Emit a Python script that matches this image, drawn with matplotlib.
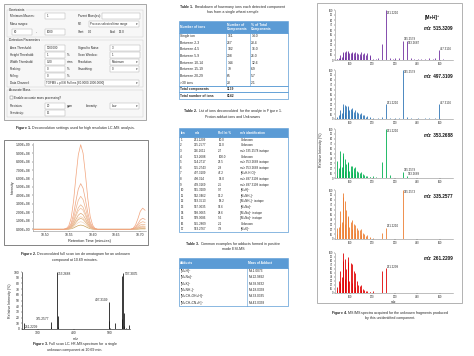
import matplotlib
matplotlib.use('Agg')
import matplotlib.pyplot as plt
from matplotlib.patches import Rectangle
from matplotlib.ticker import FuncFormatter

plt.rcParams['font.family'] = ['Liberation Sans', 'DejaVu Sans']
plt.rcParams['mathtext.fontset'] = 'custom'
plt.rcParams['mathtext.rm'] = 'Liberation Sans'
plt.rcParams['mathtext.it'] = 'Liberation Sans:italic'
plt.rcParams['mathtext.bf'] = 'Liberation Sans:bold'

W, H = 474, 356

# ---------------- data ----------------
# Figure 2: chromatogram peak shape (relative) and heights of each ion trace
rt = [10.475, 10.54, 10.545, 10.55, 10.555, 10.56, 10.565, 10.57, 10.575, 10.58,
      10.585, 10.59, 10.595, 10.60, 10.605, 10.61, 10.68, 10.685, 10.69, 10.695,
      10.70, 10.705, 10.71]
peak_shape = [0, 0, 0.01, 0.04, 0.13, 0.33, 0.62, 0.88, 1.0, 0.9,
              0.65, 0.36, 0.15, 0.05, 0.01, 0, 0, 0, 0, 0, 0, 0, 0]
tail_shape = [0, 0, 0, 0, 0, 0, 0, 0, 0, 0,
              0, 0, 0, 0, 0, 0, 0, 0.05, 0.2, 0.5, 0.85, 1.0, 0.9]
peak_heights = [1.0e9, 5.4e8, 3.9e8, 2.9e8, 2.5e8, 1.9e8, 1.5e8, 1.3e8, 0.9e8, 0.5e8]
tail_heights = [2.5e8, 1.3e8, 0.9e8, 0.6e8, 0.4e8, 0.3e8, 0.2e8, 0.1e8, 0.1e8, 0.05e8]
trace_colors = ['#f2a47c', '#eda582', '#f0b48e', '#e9b591', '#f3c3a0', '#e0aa7a',
                '#f6cfb2', '#d8b07a', '#f3d8c0', '#c9a25a']

# Figure 3: full scan spectrum (from Table 2)
ms_mz = [261.2209, 335.2577, 336.2611, 353.2688, 354.2717, 355.2743, 497.3109,
         498.314, 499.3169, 515.3209, 532.3462, 533.3513, 537.3035, 538.3065,
         539.3086, 545.2809, 553.2767]
ms_int = [10.0, 12.0, 2.7, 100.0, 23.5, 2.8, 47.2, 14.0, 2.5, 9.7, 93.2, 18.2,
          97.6, 28.6, 5.6, 2.1, 7.8]
ms_labels = ['261.2209', '335.2577', '353.2688', '497.3109', '537.3035']

# Table 1
t1_header = ['Number of ions', 'Number of\nComponents', '% of Total\nComponents']
t1_rows = [['Single ion', '161', '14.0'], ['Between 2-3', '267', '23.4'],
           ['Between 4-5', '182', '16.0'], ['Between 5-9', '298', '26.0'],
           ['Between 10-14', '144', '12.6'], ['Between 15-19', '79', '6.9'],
           ['Between 20-29', '65', '5.7'], ['>30 ions', '23', '2.1']]
t1_totals = [['Total components', '1139'], ['Total number of ions', '8142']]

# Table 2
t2_header = ['Ion', 'm/z', 'Rel Int %', 'm/z identification']
t2_rows = [['1', '261.2209', '10.0', 'Unknown'],
           ['2', '335.2577', '12.0', 'Unknown'],
           ['3', '336.2611', '2.7', 'm/z 335.2578 isotope'],
           ['4', '353.2688', '100.0', 'Unknown'],
           ['5', '354.2717', '23.5', 'm/z 353.2688 isotope'],
           ['6', '355.2743', '2.8', 'm/z 353.2688 isotope'],
           ['7', '497.3109', '47.2', '[M+H-H₂O]⁺'],
           ['8', '498.314', '14.0', 'm/z 497.3109 isotope'],
           ['9', '499.3169', '2.5', 'm/z 497.3109 isotope'],
           ['10', '515.3209', '9.7', '[M+H]⁺'],
           ['11', '532.3462', '93.2', '[M+NH₄]⁺'],
           ['12', '533.3513', '18.2', '[M+NH₄]⁺ isotope'],
           ['13', '537.3035', '97.6', '[M+Na]⁺'],
           ['14', '538.3065', '28.6', '[M+Na]⁺ isotope'],
           ['15', '539.3086', '5.6', '[M+Na]⁺ isotope'],
           ['16', '545.2809', '2.1', 'Unknown'],
           ['17', '553.2767', '7.8', '[M+K]⁺']]

# Table 3
t3_header = ['Adducts', 'Mass of Adduct']
t3_rows = [['[M+H]⁺', 'M+1.0073'], ['[M+Na]⁺', 'M+22.9892'],
           ['[M+K]⁺', 'M+38.9632'], ['[M+NH₄]⁺', 'M+18.0338'],
           ['[M+CH₃OH+H]⁺', 'M+33.0335'], ['[M+CH₃CN+H]⁺', 'M+42.0338']]

# Figure 4: MS/MS spectra, shared low-mass fragment positions
low_mz = [41, 43, 53, 55, 57, 65, 67, 69, 77, 79, 81, 91, 93, 95, 105, 107, 109,
          119, 121, 123, 133, 135, 145, 147, 149, 159, 161, 173, 175, 187, 189]
p1_low = [3, 2, 5, 10, 4, 6, 14, 17, 7, 16, 18, 17, 18, 15, 14, 16, 15, 14, 16, 8,
          15, 12, 13, 17, 9, 12, 15, 10, 14, 8, 10]
p2_low = [4, 3, 8, 18, 10, 12, 25, 30, 14, 28, 27, 24, 26, 18, 20, 22, 17, 15, 18, 9,
          14, 12, 10, 12, 6, 8, 9, 5, 6, 3, 4]
p3_low = [5, 35, 20, 55, 25, 22, 52, 45, 15, 38, 28, 32, 30, 14, 25, 24, 12, 20, 22, 8,
          15, 12, 10, 12, 5, 8, 7, 4, 5, 2, 3]
p4_low = [22, 10, 25, 58, 30, 35, 93, 85, 30, 78, 60, 47, 45, 25, 35, 38, 20, 30, 28, 12,
          22, 18, 18, 20, 8, 12, 10, 6, 8, 3, 4]
p5_low = [15, 8, 30, 55, 25, 40, 80, 100, 35, 85, 60, 90, 78, 30, 75, 72, 25, 55, 50, 15,
          30, 20, 18, 20, 8, 10, 8, 5, 6, 2, 3]

p1_mz = [201, 215, 225, 243, 261, 279, 289, 299, 317, 335, 353, 371, 385, 403, 415,
         433, 451, 469, 479, 497, 515]
p1_int = [3, 2, 4, 33, 100, 5, 3, 4, 4, 38, 38, 4, 3, 2, 3, 3, 4, 2, 4, 20, 3]
p2_mz = [201, 225, 243, 261, 279, 299, 317, 335, 353, 371, 403, 433, 451, 479, 497]
p2_int = [3, 3, 4, 30, 3, 2, 3, 100, 4, 2, 2, 2, 3, 3, 30]
p3_mz = [201, 215, 243, 261, 279, 335, 353]
p3_int = [5, 3, 32, 100, 6, 13, 5]
p4_mz = [201, 243, 261, 335]
p4_int = [3, 13, 23, 100]
p5_mz = [201, 243, 261]
p5_int = [6, 55, 62]

p1_labels = [(261, 100, '261.2210'), (335, 38, '335.2579'), (353, 30, '353.2687'),
             (497, 20, '497.3106')]
p2_labels = [(335, 100, '335.2579'), (261, 30, '261.2210'), (497, 30, '497.3106')]
p3_labels = [(261, 100, '261.2210'), (335, 13, '335.2579'), (353, 5, '353.2689')]
p4_labels = [(335, 100, '335.2573'), (261, 23, '261.2210')]
p5_labels = [(261, 62, '261.2209')]

panel_titles = ['515.3209', '497.3109', '353.2688', '335.2577', '261.2209']
panel_colors = ['#7030a0', '#2e75b6', '#00b050', '#ed7d31', '#e00000']

# ---------------- figure ----------------
fig = plt.figure(figsize=(W / 100, H / 100), dpi=100, facecolor='white')


def box(x0, y0, x1, y1):
    return [x0 / W, 1 - y1 / H, (x1 - x0) / W, (y1 - y0) / H]


bg = fig.add_axes([0, 0, 1, 1])
bg.set_xlim(0, W)
bg.set_ylim(H, 0)
bg.axis('off')

TXT = '#262626'


def caption(x, y, bold, rest, line2):
    bg.text(x, y, r'$\bf{' + bold.replace(' ', r'\ ') + '}$ ' + rest, fontsize=2.6,
            ha='center', va='center', color=TXT)
    bg.text(x, y + 5.5, line2, fontsize=2.6, ha='center', va='center', color=TXT)


# ---- Figure 1: settings dialog ----
bg.add_patch(Rectangle((4, 4), 142, 116, fc='#f7f7f7', ec='#9a9a9a', lw=0.6))
for gy0, gy1, name in [(10, 37, 'Constraints'), (40, 87, 'Detection Parameters'),
                       (90, 117, 'Accurate Mass')]:
    bg.add_patch(Rectangle((7, gy0), 136, gy1 - gy0, fc='none', ec='#c8c8c8', lw=0.3))
    bg.text(9, gy0, name, fontsize=2.3, va='center', color=TXT,
            bbox=dict(fc='#f7f7f7', ec='none', pad=0.3))


def field(x0, x1, y, txt, combo=False):
    bg.add_patch(Rectangle((x0, y - 2.6), x1 - x0, 5.2, fc='white', ec='#a8a8a8', lw=0.3))
    bg.text(x0 + 1.5, y, txt, fontsize=2.1, va='center', color=TXT)
    if combo:
        bg.text(x1 - 1.5, y, '▾', fontsize=2.3, va='center', ha='right', color=TXT,
                family=['DejaVu Sans'])


def label(x, y, txt):
    bg.text(x, y, txt, fontsize=2.2, va='center', color=TXT)


label(10, 16, 'Minimum Masses:'); field(45, 65, 16, '1')
label(78, 16, 'Parent Mass(es):'); field(102, 140, 16, '')
label(10, 24, 'Mass ranges:')
label(78, 24, 'RT:'); field(89, 139, 24, 'Process selected time range', True)
field(12, 32, 32, '80'); label(36, 32, '-'); field(45, 65, 32, '1000')
label(78, 32, 'Start:'); label(88, 32, '0.0'); label(110, 32, 'End:'); label(119, 32, '13.0')
label(10, 48, 'Area Threshold:'); field(45, 65, 48, '5000000')
label(78, 48, 'Signal to Noise:'); field(110, 140, 48, '3')
label(10, 55, 'Height Threshold:'); field(45, 65, 55, '1'); label(67, 55, '%')
label(78, 55, 'Scan Window:'); field(110, 140, 55, '1')
label(10, 62, 'Width Threshold:'); field(45, 65, 62, '0.20'); label(67, 62, 'mins')
label(78, 62, 'Resolution:'); field(110, 139, 62, 'Maximum', True)
label(10, 69, 'Peaking:'); field(45, 65, 69, '0'); label(67, 69, '%')
label(78, 69, 'Smoothing:'); field(110, 139, 69, '0', True)
label(10, 76, 'Tailing:'); field(45, 65, 76, '0'); label(67, 76, '%')
label(10, 83, 'Data Channel:'); field(45, 139, 83, 'TOFMS + p ESI Full ms [80.0000-1000.0000]', True)
bg.add_patch(Rectangle((10, 96), 3, 3, fc='white', ec='#707070', lw=0.3))
label(14, 97.7, 'Enable accurate mass processing?')
label(10, 106, 'Precision:'); field(45, 65, 106, '20'); label(67, 106, 'ppm')
label(86, 106, 'Linearity:'); field(110, 139, 106, 'Low', True)
label(10, 113, 'Sensitivity:'); field(45, 65, 113, '15')
caption(75, 128.5, 'Figure 1.', 'Deconvolution settings used for high resolution LC-MS analysis.', '')

# ---- Figure 2: chromatogram ----
bg.add_patch(Rectangle((4, 140), 144, 105, fc='white', ec='#6f6f6f', lw=0.6))
ax2 = fig.add_axes(box(33, 143, 146, 231))
for i in range(len(peak_heights)):
    y = [peak_heights[i] * p + tail_heights[i] * t for p, t in zip(peak_shape, tail_shape)]
    ax2.plot(rt, y, color=trace_colors[i], lw=0.5, zorder=10 - i)
ax2.set_xlim(10.475, 10.712)
ax2.set_ylim(-0.02e9, 1.02e9)
ax2.set_xticks([10.50, 10.55, 10.60, 10.65, 10.70])
ax2.xaxis.set_major_formatter(FuncFormatter(lambda v, p: f'{v:.2f}'))
ax2.set_yticks([i * 1e8 for i in range(11)])
ax2.yaxis.set_major_formatter(FuncFormatter(lambda v, p: f'{v:.2E}'))
ax2.tick_params(labelsize=2.4, length=1, width=0.3, pad=0.8, colors=TXT)
for s in ['top', 'right']:
    ax2.spines[s].set_visible(False)
for s in ['left', 'bottom']:
    ax2.spines[s].set_linewidth(0.4)
    ax2.spines[s].set_color('#8c8c8c')
ax2.set_xlabel('Retention Time (minutes)', fontsize=2.8, labelpad=1, color=TXT)
ax2.set_ylabel('Intensity', fontsize=2.6, labelpad=1, color=TXT)
caption(75, 254.5, 'Figure 2.', 'Deconvoluted full scan ion chromatogram for an unknown',
        'compound at 10.69 minutes.')

# ---- Figure 3: full scan spectrum ----
ax3 = fig.add_axes(box(22, 272, 130, 329))
ax3.vlines(ms_mz, 0, ms_int, color='#1a1a1a', lw=0.6)
ax3.set_xlim(255, 556)
ax3.set_ylim(0, 100)
ax3.set_xticks([300, 400, 500])
ax3.set_yticks(range(0, 101, 10))
ax3.tick_params(labelsize=2.4, length=1, width=0.3, pad=0.8, colors=TXT)
for s in ['top', 'right']:
    ax3.spines[s].set_visible(False)
for s in ['left', 'bottom']:
    ax3.spines[s].set_linewidth(0.4)
ax3.set_xlabel('m/z', fontsize=2.6, labelpad=1, color=TXT)
ax3.set_ylabel('Relative Intensity (%)', fontsize=2.6, labelpad=1, color=TXT)
# label placement: (x shift, y position, ha)
label_pos = {'261.2209': (3, 4, 'left'), '335.2577': (-3, 18, 'right'),
             '353.2688': (3, 96, 'left'), '497.3109': (-3, 51, 'right'),
             '537.3035': (3, 96, 'left')}
mz_names = [f'{m:.4f}' for m in ms_mz]
for lab in ms_labels:
    i = mz_names.index(lab)
    dx, yy, ha = label_pos[lab]
    ax3.text(ms_mz[i] + dx, yy, lab, fontsize=2.3, ha=ha, va='center', color=TXT)
caption(75, 344, 'Figure 3.', 'Full scan LC-HR-MS spectrum for a single',
        'unknown component at 10.69 min.')

# ---- Tables ----
BLUE = '#5b9bd5'


def draw_table(cols, y0, head_h, row_h, header, rows, fs, vlines=True):
    bg.add_patch(Rectangle((cols[0], y0), cols[-1] - cols[0], head_h, fc=BLUE, ec=BLUE, lw=0.4))
    for i, h in enumerate(header):
        bg.text(cols[i] + 1.3, y0 + head_h / 2, h, fontsize=fs, color='white',
                fontweight='bold', va='center', linespacing=0.95)
    y = y0 + head_h
    for row in rows:
        for i, v in enumerate(row):
            bg.text(cols[i] + 1.3, y + row_h / 2, v, fontsize=fs, va='center', color=TXT)
        y += row_h
    bg.add_patch(Rectangle((cols[0], y0 + head_h), cols[-1] - cols[0], y - y0 - head_h,
                           fc='none', ec=BLUE, lw=0.5))
    if vlines:
        for x in cols[1:-1]:
            bg.plot([x, x], [y0 + head_h, y], color=BLUE, lw=0.4)
    return y


caption(233, 7, 'Table 1.', 'Breakdown of how many ions each detected component',
        'has from a single wheat sample')
t1_cols = [179, 226, 250, 288]
yend = draw_table(t1_cols, 21, 12, 6.6, t1_header, t1_rows, 2.4)
for j, (name, val) in enumerate(t1_totals):
    yy = yend + j * 6.6
    bg.add_patch(Rectangle((179, yy), 109, 6.6, fc='none', ec=BLUE, lw=0.5))
    bg.text(180.3, yy + 3.3, name, fontsize=2.4, va='center', color=TXT, fontweight='bold')
    bg.text(227.3, yy + 3.3, val, fontsize=2.4, va='center', color=TXT, fontweight='bold')

caption(233, 111, 'Table 2.', 'List of ions deconvoluted for the analyte in Figure 1.',
        'Proton adduct ions and Unknowns')
draw_table([179, 193, 217, 239, 288], 128, 9, 5.6, t2_header, t2_rows, 2.2, vlines=False)

caption(233, 244, 'Table 3.', 'Common examples for adducts formed in positive',
        'mode ESI-MS')
draw_table([179, 247, 288], 258, 10, 6.3, t3_header, t3_rows, 2.3)

# ---- Figure 4: MS/MS spectra ----
bg.add_patch(Rectangle((317, 3), 145, 300, fc='white', ec='#a6a6a6', lw=0.6))
bg.text(321, 150, 'Relative Intensity (%)', fontsize=2.6, rotation=90, ha='center',
        va='center', color=TXT)
panel_boxes = [(10, 60), (70, 119), (129, 178), (190, 239), (253, 293)]
panel_lows = [p1_low, p2_low, p3_low, p4_low, p5_low]
panel_mz = [p1_mz, p2_mz, p3_mz, p4_mz, p5_mz]
panel_int = [p1_int, p2_int, p3_int, p4_int, p5_int]
panel_labels = [p1_labels, p2_labels, p3_labels, p4_labels, p5_labels]
for k, (ytop, ybot) in enumerate(panel_boxes):
    ax = fig.add_axes(box(335, ytop, 453, ybot))
    c = panel_colors[k]
    ax.vlines(low_mz, 0, panel_lows[k], color=c, lw=0.6)
    ax.vlines(panel_mz[k], 0, panel_int[k], color=c, lw=0.6)
    ax.set_xlim(33, 558)
    ax.set_ylim(0, 100)
    ax.set_xticks([100, 200, 300, 400, 500])
    ax.set_yticks(range(0, 101, 10))
    ax.tick_params(labelsize=1.9, length=0.8, width=0.3, pad=0.6, colors=TXT)
    for s in ['top', 'right']:
        ax.spines[s].set_visible(False)
    for s in ['left', 'bottom']:
        ax.spines[s].set_linewidth(0.4)
        ax.spines[s].set_color('#8c8c8c')
    for mz, h, lab in panel_labels[k]:
        ax.text(mz + 4, h - 1, lab, fontsize=2.1, ha='left', va='top' if h > 90 else 'bottom',
                color=TXT)
    ty = 0.86 if k else 0.62
    ax.text(0.82, ty, 'm/z', transform=ax.transAxes, fontsize=3.3, fontweight='bold',
            style='italic', ha='right', va='center', color='#111')
    ax.text(0.82, ty, ' ' + panel_titles[k], transform=ax.transAxes, fontsize=3.3,
            fontweight='bold', ha='left', va='center', color='#111')
    if k == 0:
        ax.text(0.76, 0.86, '[M+H]⁺', transform=ax.transAxes, fontsize=3.3,
                fontweight='bold', ha='left', va='center', color='#111')
    if k == 4:
        ax.set_xlabel('m/z', fontsize=2.4, labelpad=0.8, color=TXT)
caption(390, 313, 'Figure 4.', 'MS/MS spectra acquired for the unknown fragments produced',
        'by this unidentified component.')

fig.savefig('out.png', dpi=100, facecolor='white')
